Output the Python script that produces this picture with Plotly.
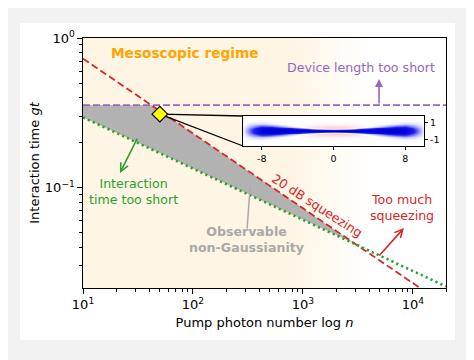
import numpy as np
import plotly.graph_objects as go

# ---------------- data ----------------
n_range = [10, 2e4]                 # pump photon number shown
gt_range_log = [-1.67, 0.0]         # log10 of interaction-time range

device_n = [10, 2e4]                # "Device length too short" limit
device_gt = [0.356, 0.356]

squeeze_n = [10, 2e4]               # 20 dB squeezing limit
squeeze_gt = [0.728, 0.0163]

short_n = [10, 2e4]                 # "Interaction time too short" limit
short_gt = [0.295, 0.0219]

region_n = [10, 42, 2950, 10]       # observable non-Gaussianity region
region_gt = [0.356, 0.356, 0.0424, 0.295]

marker_n = [50]                     # highlighted working point
marker_gt = [0.31]

x_tick_vals = [10, 100, 1000, 10000]
x_tick_text = ["10<sup>1</sup>", "10<sup>2</sup>", "10<sup>3</sup>", "10<sup>4</sup>"]
y_tick_vals = [0.1, 1]
y_tick_text = ["10<sup>\u22121</sup>", "10<sup>0</sup>"]

# inset: profile of the phase-space map
ins_cols = [-10, -9, -8, -7, -6, -5, -4, -3, -2, -1, 0, 1, 2, 3, 4, 5, 6, 7, 8, 9, 10]
blue_amp = [0.05, 0.5, 1.1, 1.3, 1.3, 1.3, 1.3, 1.35, 1.4, 1.45, 1.45, 1.45, 1.4, 1.35, 1.3,
            1.3, 1.3, 1.3, 1.1, 0.5, 0.05]
blue_sig = [0.42, 0.42, 0.38, 0.33, 0.28, 0.23, 0.19, 0.16, 0.135, 0.125, 0.12, 0.125, 0.135,
            0.16, 0.19, 0.23, 0.28, 0.33, 0.38, 0.42, 0.42]
red_amp = [0, 0, 0, 0, 0, 0.02, 0.07, 0.15, 0.24, 0.3, 0.32, 0.3, 0.24, 0.15, 0.07, 0.02,
           0, 0, 0, 0, 0]
red_sig = 0.4
ins_rows = [round(-1.8 + 0.05 * i, 2) for i in range(73)]
ins_x_ticks = [-8, 0, 8]
ins_x_text = ["-8", "0", "8"]
ins_y_ticks = [-1, 1]
ins_y_text = ["-1", "1"]

# ---------------- styling ----------------
FONT = "DejaVu Sans"
CREAM = "#fff5e5"
PURPLE = "#9467bd"
RED = "#d62728"
GREEN = "#2ca02c"
ORANGE = "#ffa500"
GREY_TXT = "#a9a9a9"

OFF = 8  # page offset of the figure inside the window
W, H = 474, 360
ml, mt = 83 - OFF, 38 - OFF
plot_r, plot_b = 446 - OFF, 288 - OFF
mr, mb = W - plot_r, H - plot_b
pw, ph = plot_r - ml, plot_b - mt

def px2paper(px, py):
    # px, py are window coordinates
    return (px - OFF - ml) / pw, (plot_b - (py - OFF)) / ph

xr = [np.log10(n_range[0]), np.log10(n_range[1])]
yr = gt_range_log

# inset domain (paper)
ix0, iy1 = px2paper(243, 116)
ix1, iy0 = px2paper(424, 146)

fig = go.Figure()

# background "mesoscopic regime" shading fading to white
fig.add_trace(go.Scatter(
    x=[n_range[0], n_range[1], n_range[1], n_range[0], n_range[0]],
    y=[10 ** yr[0], 10 ** yr[0], 10 ** yr[1], 10 ** yr[1], 10 ** yr[0]],
    fill="toself", mode="none",
    fillgradient=dict(type="horizontal",
                      colorscale=[[0, CREAM], [0.58, CREAM], [0.79, "#ffffff"], [1, "#ffffff"]]),
    hoverinfo="skip", showlegend=False))

fig.add_trace(go.Scatter(x=region_n, y=region_gt, fill="toself", fillcolor="#b2b2b2",
                         mode="none", hoverinfo="skip", showlegend=False))

fig.add_trace(go.Scatter(x=device_n, y=device_gt, mode="lines",
                         line=dict(color=PURPLE, width=1.8, dash="7px,3px"), showlegend=False))
fig.add_trace(go.Scatter(x=squeeze_n, y=squeeze_gt, mode="lines",
                         line=dict(color=RED, width=1.8, dash="7px,3.5px"), showlegend=False))
fig.add_trace(go.Scatter(x=short_n, y=short_gt, mode="lines",
                         line=dict(color=GREEN, width=2.6, dash="2.2px,3.2px"), showlegend=False))

# connector lines from working point to inset corners
n_left = 10 ** (xr[0] + ix0 * (xr[1] - xr[0]))
gt_top = 10 ** (yr[0] + iy1 * (yr[1] - yr[0]))
gt_bot = 10 ** (yr[0] + iy0 * (yr[1] - yr[0]))
fig.add_trace(go.Scatter(x=[marker_n[0], n_left, None, marker_n[0], n_left],
                         y=[marker_gt[0], gt_top, None, marker_gt[0], gt_bot],
                         mode="lines", line=dict(color="black", width=1.3),
                         hoverinfo="skip", showlegend=False))
fig.add_trace(go.Scatter(x=marker_n, y=marker_gt, mode="markers",
                         marker=dict(symbol="diamond", size=12, color="#ffff00",
                                     line=dict(color="black", width=1.2)),
                         showlegend=False))

# inset heatmap built from the column profiles
ba = np.array(blue_amp)[None, :]
bs = np.array(blue_sig)[None, :]
ra = np.array(red_amp)[None, :]
yy = np.array(ins_rows)[:, None]
ins_z = -ba * np.exp(-0.5 * (yy / bs) ** 2) + ra * np.exp(-0.5 * (yy / red_sig) ** 2)
ins_z = np.clip(ins_z, -1, 1)
fig.add_trace(go.Heatmap(x=ins_cols, y=ins_rows, z=ins_z, zmin=-1, zmax=1, zsmooth="best",
                         colorscale=[[0, "#0000d8"], [0.25, "#2020f0"], [0.5, "#ffffff"],
                                     [1, "#ff0000"]],
                         showscale=False, xaxis="x2", yaxis="y2", hoverinfo="skip"))

minor_x = [k * 10 ** d for d in range(1, 5) for k in range(2, 10) if k * 10 ** d <= n_range[1]]
minor_y = [k * 10 ** d for d in (-2, -1) for k in range(2, 10) if k * 10 ** d >= 10 ** yr[0]]

axis_common = dict(showline=True, linecolor="black", linewidth=1.2, mirror=True,
                   ticks="outside", ticklen=4.5, tickwidth=1, tickcolor="black",
                   showgrid=False, zeroline=False,
                   tickfont=dict(family=FONT, size=13, color="black"))

fig.update_layout(
    width=W, height=H,
    margin=dict(l=ml, r=mr, t=mt, b=mb),
    paper_bgcolor="#f2f2f2", plot_bgcolor="white",
    font=dict(family=FONT, size=13, color="black"),
    xaxis=dict(type="log", range=xr, tickmode="array", tickvals=x_tick_vals, ticktext=x_tick_text,
               minor=dict(ticks="outside", ticklen=2.5, tickwidth=0.8, tickcolor="black",
                          tickmode="array", tickvals=minor_x),
               title=dict(text="Pump photon number log <i>n</i>", standoff=6,
                          font=dict(family=FONT, size=13)),
               **axis_common),
    yaxis=dict(type="log", range=yr, tickmode="array", tickvals=y_tick_vals, ticktext=y_tick_text,
               minor=dict(ticks="outside", ticklen=2.5, tickwidth=0.8, tickcolor="black",
                          tickmode="array", tickvals=minor_y),
               title=dict(text="Interaction time <i>gt</i>", standoff=2,
                          font=dict(family=FONT, size=13)),
               **axis_common),
    xaxis2=dict(domain=[ix0, ix1], anchor="y2", range=[-10.1, 10.1], showline=True,
                linecolor="black", linewidth=1.2, mirror=True, ticks="outside", ticklen=3,
                tickcolor="black", tickmode="array", tickvals=ins_x_ticks, ticktext=ins_x_text,
                showgrid=False, zeroline=False, tickfont=dict(family=FONT, size=9.5)),
    yaxis2=dict(domain=[iy0, iy1], anchor="x2", side="right", range=[-1.75, 1.75],
                showline=True, linecolor="black", linewidth=1.2, mirror=True, ticks="outside",
                ticklen=3, tickcolor="black", tickmode="array", tickvals=ins_y_ticks,
                ticktext=ins_y_text, showgrid=False, zeroline=False,
                tickfont=dict(family=FONT, size=9.5)),
)

# white card and frame strip
cx0, cy1 = px2paper(20, 23)
cx1, cy0 = px2paper(455, 340)
sx0, _ = px2paper(467, 0)
fig.add_shape(type="rect", xref="paper", yref="paper", x0=cx0, x1=cx1, y0=cy0, y1=cy1,
              fillcolor="white", line=dict(width=0), layer="below")
fig.add_shape(type="rect", xref="paper", yref="paper", x0=sx0, x1=1.3, y0=-0.5, y1=1.5,
              fillcolor="#e4e4e4", line=dict(width=0), layer="below")

L = np.log10

def txt(text, n, gt, color, size=12.6, bold=False, angle=0):
    fig.add_annotation(x=L(n), y=L(gt), xref="x", yref="y", text=("<b>%s</b>" % text) if bold else text,
                       showarrow=False, textangle=angle,
                       font=dict(family=FONT, size=size, color=color))

def arrow(n, gt, ax, ay, color, head=5, width=1.6):
    fig.add_annotation(x=L(n), y=L(gt), xref="x", yref="y", ax=ax, ay=ay, text="",
                       showarrow=True, arrowhead=head, arrowsize=1, arrowwidth=width,
                       arrowcolor=color)

txt("Mesoscopic regime", 10 ** 1.928, 10 ** -0.100, ORANGE, size=13.7, bold=True)
txt("Device length too short", 10 ** 3.528, 10 ** -0.200, PURPLE)
txt("Interaction<br>time too short", 10 ** 1.455, 10 ** -1.025, GREEN)
txt("Observable<br>non-Gaussianity", 10 ** 2.491, 10 ** -1.343, GREY_TXT, bold=True)
txt("20 dB squeezing", 10 ** 3.128, 10 ** -1.116, RED, angle=33)
txt("Too much<br>squeezing", 10 ** 3.901, 10 ** -1.129, RED)

arrow(10 ** 1.336, 10 ** -0.902, 18, -36, GREEN)
arrow(10 ** 3.692, 10 ** -0.274, 0, 26, PURPLE, head=2)
arrow(10 ** 3.919, 10 ** -1.269, -26, 29, RED)
arrow(10 ** 2.519, 10 ** -0.995, -3, 43, GREY_TXT, head=0, width=1.5)

fig.write_html("out.html")
